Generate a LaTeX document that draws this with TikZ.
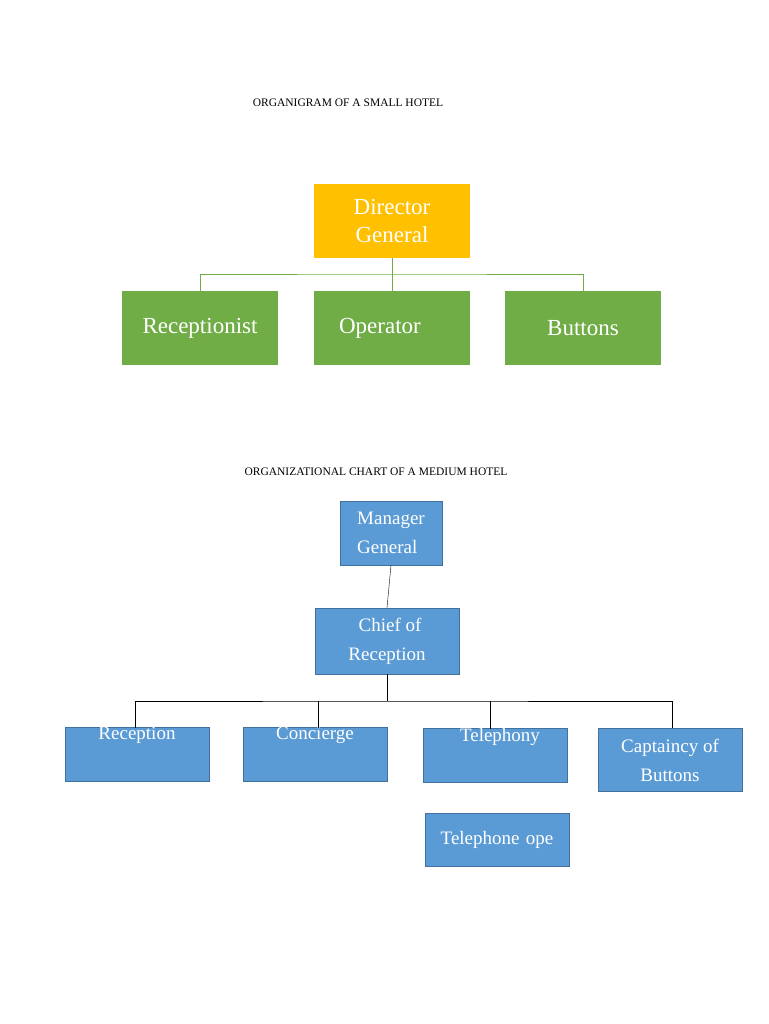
\documentclass[tikz,border=0pt]{standalone}
\usepackage{fontspec}
\setmainfont{Liberation Serif}
\usetikzlibrary{positioning}
\definecolor{boss}{HTML}{FFC000}
\definecolor{staff}{HTML}{70AD47}
\definecolor{dept}{HTML}{5B9BD5}
\definecolor{deptline}{HTML}{41719C}
\tikzset{
	x=1pt, y=-1pt,
	small/.style={draw=none, text=white, font=\fontsize{23}{28}\selectfont, minimum width=156pt, minimum height=74pt, inner sep=0pt, align=center}, % boxes of the small hotel
	medium/.style={draw=deptline, fill=dept, text=white, font=\fontsize{19}{29}\selectfont, inner sep=0pt, minimum width=144pt, minimum height=52pt, align=center}, % boxes of the medium hotel
	title/.style={font=\fontsize{11.5}{14}\selectfont},
}
\begin{document}
\begin{tikzpicture}
	\useasboundingbox[fill=white] (0,0) rectangle (768,1024);
	% small hotel
	\node[title] (t1) at (348,103) {ORGANIGRAM OF A SMALL HOTEL};
	\node[small, fill=boss] (dg) at (392,221) {Director\\General};
	\node[small, fill=staff] (rec) at (200,328) {Receptionist};
	\node[small, fill=staff] (op) at (392,328) {\hspace*{-24pt}Operator};
	\node[small, fill=staff] (but) at (583,328) {Buttons};
	\coordinate (s1) at (392,274);
	\draw[staff] (dg.south) -- (s1);
	\draw[staff] (rec.north) |- (s1) -| (but.north);
	\draw[staff] (op.north) -- (s1);
	% medium hotel
	\node[title] (t2) at (376,472) {ORGANIZATIONAL CHART OF A MEDIUM HOTEL};
	\node[medium, minimum width=102pt, minimum height=64pt, align=left] (mg) at (391,533) {Manager\\General};
	\node[medium, minimum height=66pt] (cr) at (387,641) {\hspace*{6pt}Chief of\\Reception};
	\node[medium, minimum height=51pt] (recp) at (137,754) {Reception\\[12pt]};
	\node[medium, minimum height=51pt] (con) at (315,754) {Concierge\\[12pt]};
	\node[medium, minimum height=51pt] (tel) at (495,755) {\hspace*{10pt}Telephony\\[12pt]};
	\node[medium, minimum height=63pt] (cap) at (670,760) {Captaincy of\\Buttons};
	\node[medium, minimum height=53pt, anchor=north west, text width=143pt, align=left] (top) at (425,813) {\hspace*{15pt}Telephone ope\\[12pt]};
	\coordinate (m1) at (387,701);
	\draw (mg.south) -- (cr.north);
	\draw (cr.south) -- (m1);
	\draw (135,728) |- (m1) -| (672,728);
	\draw (318,701) -- (318,728);
	\draw (490,701) -- (490,729);
\end{tikzpicture}
\end{document}
